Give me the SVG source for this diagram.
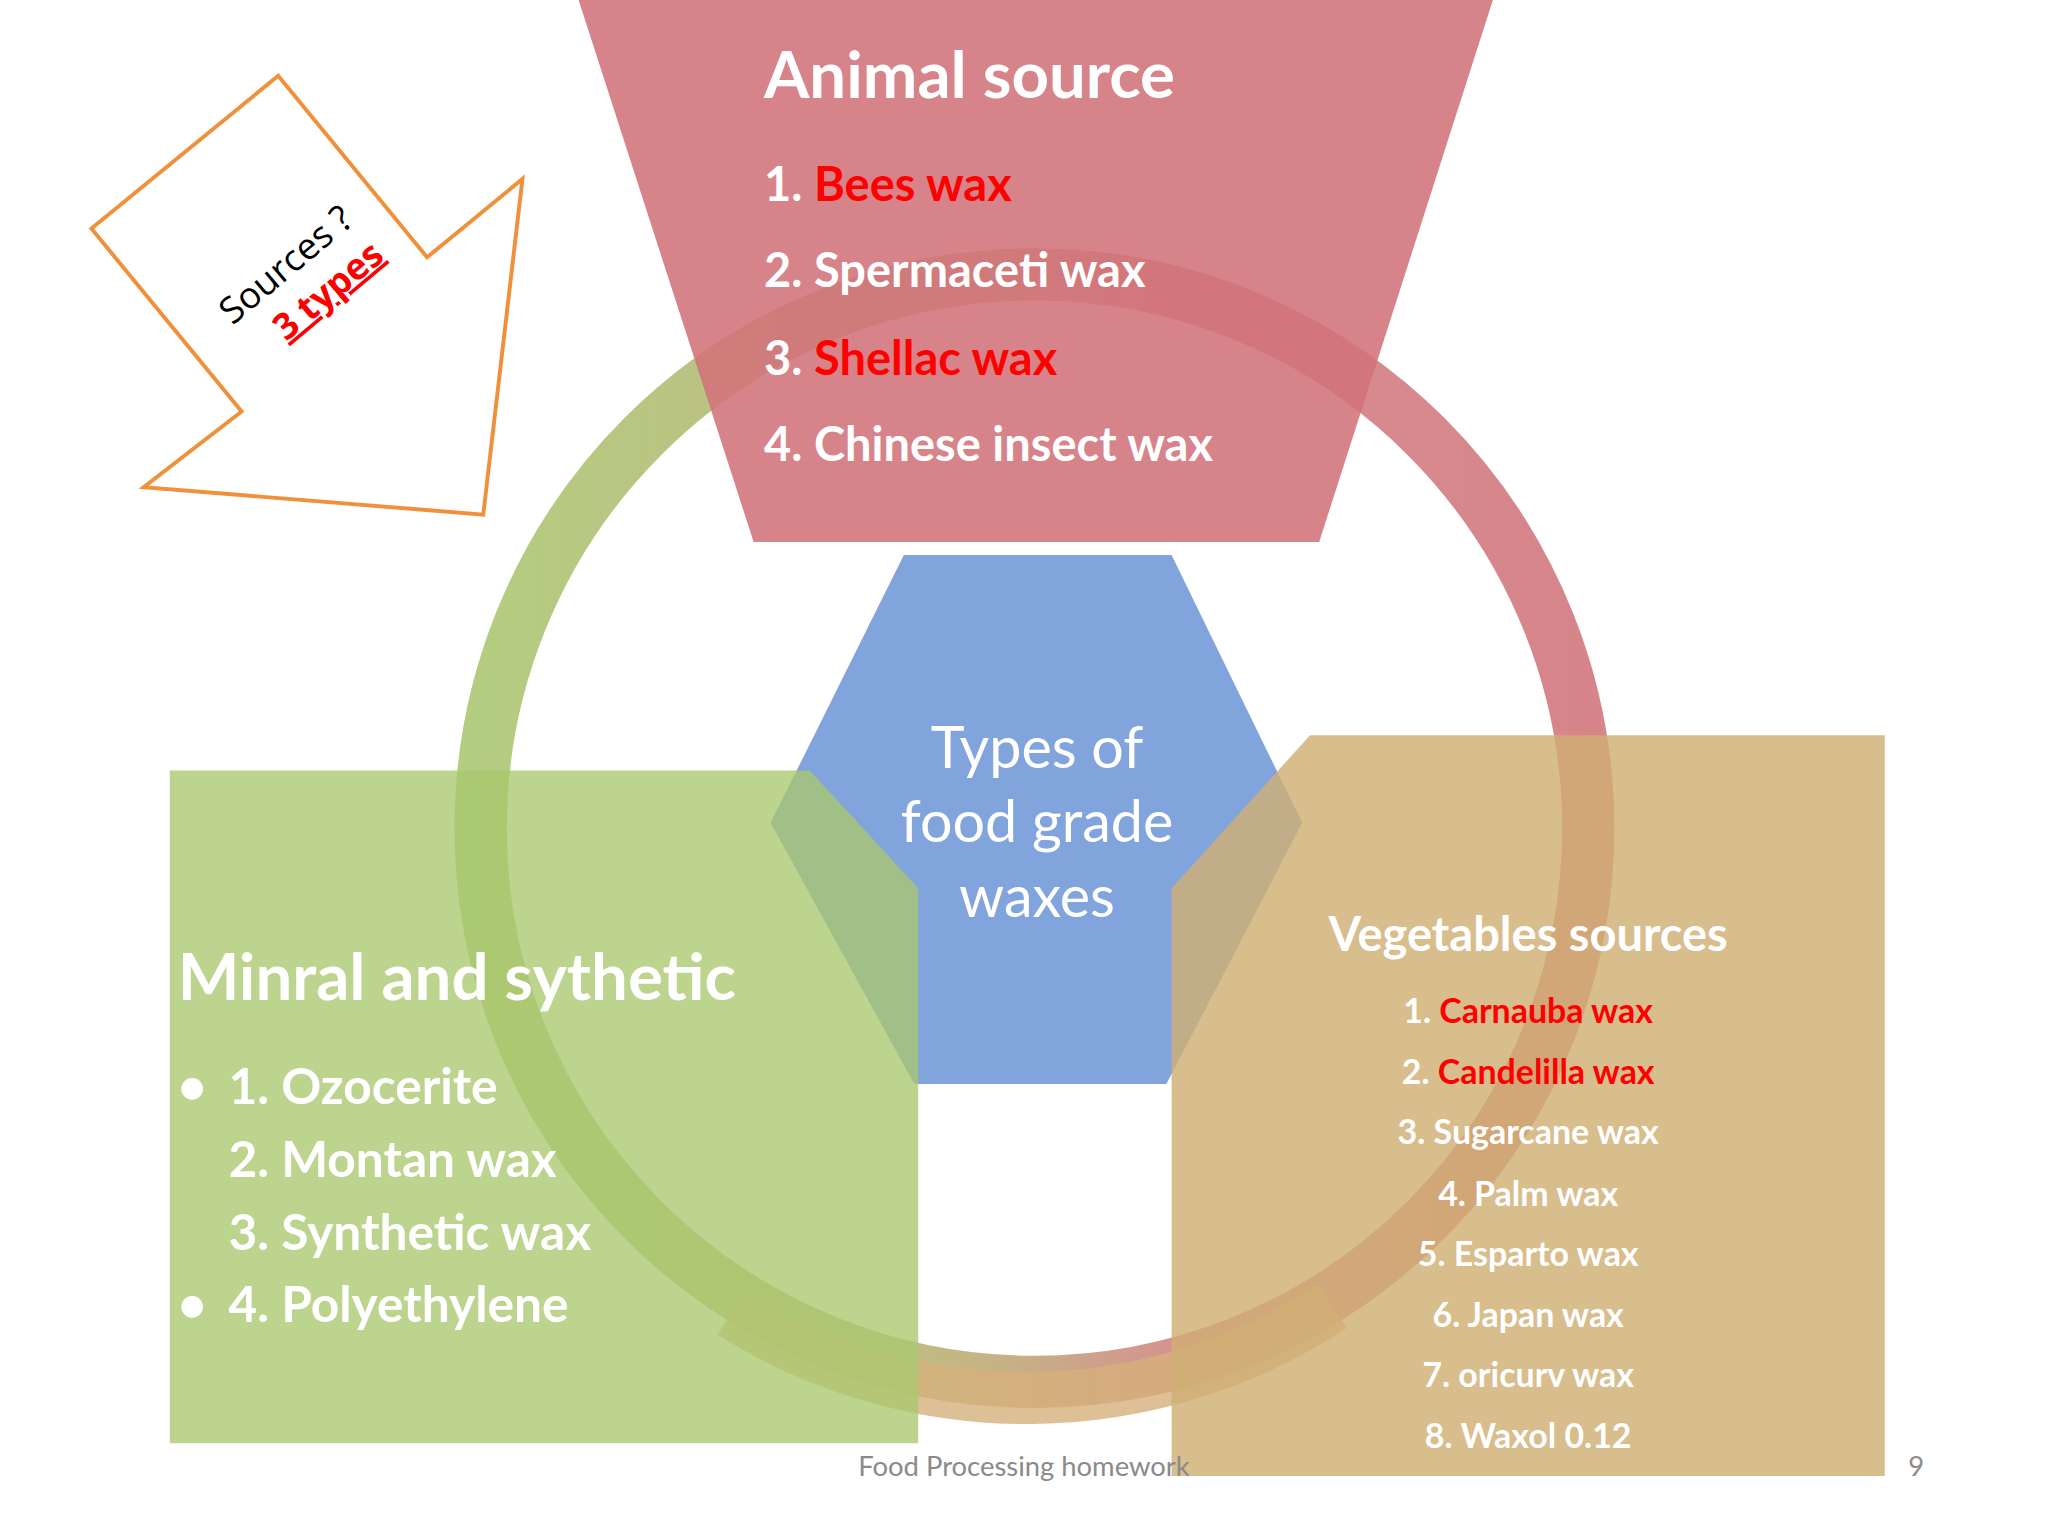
<svg xmlns="http://www.w3.org/2000/svg" width="2048" height="1536" viewBox="0 0 2048 1536">
<defs>
<style>
text{font-family:Lato,"Open Sans","Liberation Sans",sans-serif;fill:#fff}
.b{font-weight:bold}
.r{fill:#ff0000}
.v{font-size:26px;font-weight:bold;text-anchor:middle}
.a{font-size:36px;font-weight:bold}
.m{font-size:38px;font-weight:bold}
</style>
<linearGradient id="ring" x1="0" y1="0" x2="1" y2="0">
<stop offset="0" stop-color="#a6c46a"/><stop offset="0.45" stop-color="#b9a96e"/><stop offset="0.65" stop-color="#d07a7e"/><stop offset="1" stop-color="#cf6f75"/>
</linearGradient>
</defs>
<rect width="2048" height="1536" fill="#fff"/>
<g transform="scale(1.30612)">
<g id="ring-g">
<circle cx="792" cy="634" r="424" fill="none" stroke="url(#ring)" stroke-width="40" opacity="0.85"/>
<path d="M 560 1005 A 424 424 0 0 0 1020 1000" fill="none" stroke="#d6b07c" stroke-width="40" opacity="0.8"/>
</g>
<g id="animal">
<polygon points="443,0 1143,0 1010,415 577,415" fill="#d2727a" opacity="0.88"/>
<text x="585" y="75" class="b" font-size="50">Animal source</text>
<text x="585" y="154" class="a">1. <tspan class="r">Bees wax</tspan></text>
<text x="585" y="220" class="a">2. Spermaceti wax</text>
<text x="585" y="287" class="a">3. <tspan class="r">Shellac wax</tspan></text>
<text x="585" y="353" class="a">4. Chinese insect wax</text>
</g>
<g id="center">
<polygon points="692,425 897,425 997,630 893,830 700,830 590,630" fill="#7b9fdb" opacity="0.95"/>
<text x="794" y="588" font-size="44" text-anchor="middle">Types of</text>
<text x="794" y="645" font-size="44" text-anchor="middle">food grade</text>
<text x="794" y="702" font-size="44" text-anchor="middle">waxes</text>
</g>
<g id="mineral">
<polygon points="130,590 620,590 703,680 703,1105 130,1105" fill="#a9c86e" opacity="0.78"/>
<text x="136" y="766" class="b" font-size="50">Minral and sythetic</text>
<text x="136" y="845" class="m">•</text>
<text x="175" y="845" class="m">1. Ozocerite</text>
<text x="175" y="901" class="m">2. Montan wax</text>
<text x="175" y="957" class="m">3. Synthetic wax</text>
<text x="136" y="1012" class="m">•</text>
<text x="175" y="1012" class="m">4. Polyethylene</text>
</g>
<g id="veg">
<polygon points="1003,563 1443,563 1443,1130 897,1130 897,680" fill="#cfae74" opacity="0.82"/>
<text x="1170" y="728" class="b" font-size="36" text-anchor="middle">Vegetables sources</text>
<text x="1170" y="783" class="v">1. <tspan class="r">Carnauba wax</tspan></text>
<text x="1170" y="830" class="v">2. <tspan class="r">Candelilla wax</tspan></text>
<text x="1170" y="876" class="v">3. Sugarcane wax</text>
<text x="1170" y="923" class="v">4. Palm wax</text>
<text x="1170" y="969" class="v">5. Esparto wax</text>
<text x="1170" y="1016" class="v">6. Japan wax</text>
<text x="1170" y="1062" class="v">7. oricurv wax</text>
<text x="1170" y="1109" class="v">8. Waxol 0.12</text>
</g>
<g id="arrow">
<polygon points="213,58 327,197 400,137 370,394 110,373 185,315 70,175" fill="#fff" stroke="#f0913a" stroke-width="3"/>
<g transform="translate(225,210) rotate(-40)">
<text x="0" y="0" font-size="28" text-anchor="middle" style="fill:#000;font-family:'Open Sans',sans-serif">Sources ?</text>
<text x="12" y="36" font-size="28" text-anchor="middle" font-weight="bold" text-decoration="underline" style="fill:#ff0000;font-family:'Open Sans',sans-serif">3 types</text>
</g>
</g>
<text x="784" y="1130" font-size="21" text-anchor="middle" style="fill:#8a8a8a">Food Processing homework</text>
<text x="1467" y="1130" font-size="21" text-anchor="middle" style="fill:#8a8a8a">9</text>
</g>
</svg>
